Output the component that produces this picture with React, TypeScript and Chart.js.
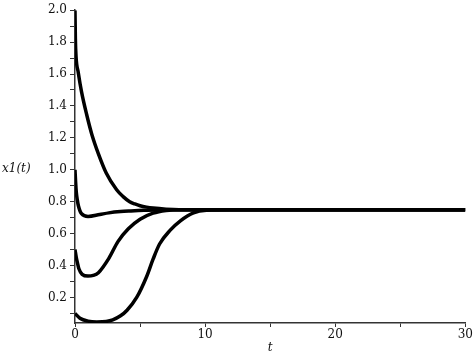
import React, { useEffect, useRef } from "react";
import { Chart, registerables } from "chart.js";

Chart.register(...registerables);

// Curve starting at 2.0
const tA = [0, 0.03, 0.08, 0.25, 0.5, 0.9, 1.3, 1.8, 2.4, 3.2, 3.7, 4.2, 4.6, 5.0, 5.5, 6.0, 7.0, 8.0, 10, 30];
const yA = [2.0, 1.82, 1.71, 1.61, 1.49, 1.345, 1.22, 1.1, 0.98, 0.875, 0.832, 0.8, 0.786, 0.775, 0.766, 0.76, 0.753, 0.75, 0.75, 0.75];

// Curve starting at 1.0
const tB = [0, 0.05, 0.1, 0.18, 0.26, 0.5, 1.0, 1.9, 2.6, 3.5, 4.3, 5.3, 7, 30];
const yB = [1.0, 0.92, 0.86, 0.81, 0.775, 0.725, 0.708, 0.72, 0.73, 0.738, 0.742, 0.746, 0.75, 0.75];

// Curve starting at 0.5
const tC = [0, 0.1, 0.18, 0.3, 0.55, 1.0, 1.4, 1.8, 2.6, 3.3, 4.1, 5.0, 6.0, 7.0, 8.0, 30];
const yC = [0.5, 0.45, 0.42, 0.38, 0.345, 0.334, 0.338, 0.355, 0.445, 0.55, 0.63, 0.69, 0.728, 0.745, 0.75, 0.75];

// Curve starting at 0.1
const tD = [0, 0.38, 1.0, 1.67, 2.4, 2.9, 3.5, 4.0, 4.74, 5.5, 6.0, 6.5, 7.3, 8.1, 9.1, 10.1, 12, 30];
const yD = [0.1, 0.07, 0.052, 0.047, 0.05, 0.06, 0.085, 0.12, 0.2, 0.33, 0.44, 0.535, 0.62, 0.68, 0.73, 0.747, 0.75, 0.75];

const xTickValues = [0, 5, 10, 15, 20, 25, 30];
const xTickLabels = ["0", "", "10", "", "20", "", "30"];
const yTickValues = [0.1, 0.2, 0.3, 0.4, 0.5, 0.6, 0.7, 0.8, 0.9, 1.0, 1.1, 1.2, 1.3, 1.4, 1.5, 1.6, 1.7, 1.8, 1.9, 2.0];
const yTickLabels = ["", "0.2", "", "0.4", "", "0.6", "", "0.8", "", "1.0", "", "1.2", "", "1.4", "", "1.6", "", "1.8", "", "2.0"];

const xTitle = "t";
const yTitle = "x1(t)";

const toPoints = (ts: number[], ys: number[]) => ts.map((t, i) => ({ x: t, y: ys[i] }));

const yTitlePlugin = {
  id: "yTitleHorizontal",
  afterDraw(chart: any) {
    const ctx = chart.ctx;
    const y = chart.scales.y.getPixelForValue(1.0);
    ctx.save();
    ctx.font = "italic 12px 'DejaVu Serif'";
    ctx.fillStyle = "#111";
    ctx.textAlign = "left";
    ctx.textBaseline = "middle";
    ctx.fillText(yTitle, 2, y - 1);
    ctx.restore();
  },
};

export default function App() {
  const ref = useRef<HTMLCanvasElement | null>(null);

  useEffect(() => {
    document.body.style.margin = "0";
    const canvas = ref.current;
    if (!canvas) return;
    const lineStyle = {
      borderColor: "#000",
      borderWidth: 3.5,
      pointRadius: 0,
      fill: false,
      cubicInterpolationMode: "monotone" as const,
    };
    const chart = new Chart(canvas, {
      type: "line",
      data: {
        datasets: [
          { label: "x1(0)=2.0", data: toPoints(tA, yA), ...lineStyle },
          { label: "x1(0)=1.0", data: toPoints(tB, yB), ...lineStyle },
          { label: "x1(0)=0.5", data: toPoints(tC, yC), ...lineStyle },
          { label: "x1(0)=0.1", data: toPoints(tD, yD), ...lineStyle },
        ],
      },
      options: {
        animation: false,
        responsive: false,
        devicePixelRatio: 1,
        layout: { padding: { top: 3, right: 8, bottom: 0, left: 0 }, autoPadding: false },
        plugins: { legend: { display: false }, tooltip: { enabled: false } },
        scales: {
          x: {
            type: "linear",
            min: 0,
            max: 30,
            afterBuildTicks: (scale: any) => {
              scale.ticks = xTickValues.map((v) => ({ value: v }));
            },
            afterFit: (scale: any) => {
              scale.height = 30;
            },
            ticks: {
              autoSkip: false,
              maxRotation: 0,
              padding: 1,
              color: "#111",
              font: { family: "'DejaVu Serif'", size: 12 },
              callback: (v: any) => {
                const i = xTickValues.indexOf(Number(v));
                return i >= 0 ? xTickLabels[i] : "";
              },
            },
            grid: { drawOnChartArea: false, drawTicks: true, tickLength: 4, tickColor: "#333", tickWidth: 1 },
            border: { display: true, color: "#333", width: 1.5 },
            title: {
              display: true,
              text: xTitle,
              color: "#111",
              font: { family: "'DejaVu Serif'", size: 12, style: "italic" },
              padding: { top: 0, bottom: -2 },
            },
          },
          y: {
            type: "linear",
            min: 0.04,
            max: 2.0,
            afterBuildTicks: (scale: any) => {
              scale.ticks = yTickValues.map((v) => ({ value: v }));
            },
            afterFit: (scale: any) => {
              scale.width = 75;
            },
            ticks: {
              autoSkip: false,
              padding: 3,
              color: "#111",
              font: { family: "'DejaVu Serif'", size: 12 },
              callback: (v: any) => {
                const i = yTickValues.findIndex((t) => Math.abs(t - Number(v)) < 1e-6);
                return i >= 0 ? yTickLabels[i] : "";
              },
            },
            grid: { drawOnChartArea: false, drawTicks: true, tickLength: 5, tickColor: "#333", tickWidth: 1 },
            border: { display: true, color: "#333", width: 1.5 },
          },
        },
      },
      plugins: [yTitlePlugin],
    });
    return () => chart.destroy();
  }, []);

  return (
    <div style={{ width: 474, height: 353 }}>
      <canvas ref={ref} width={474} height={353} style={{ display: "block" }} />
    </div>
  );
}
